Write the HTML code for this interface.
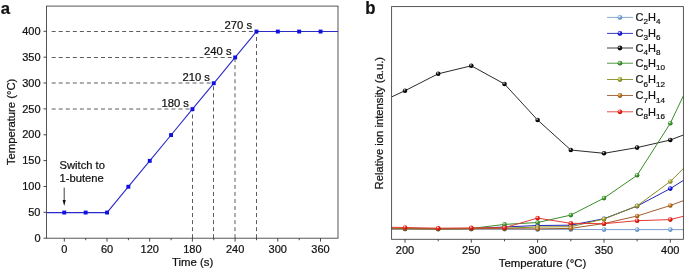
<!DOCTYPE html>
<html><head><meta charset="utf-8"><title>figure</title>
<style>html,body{margin:0;padding:0;background:#fff}svg{display:block}text{font-family:"Liberation Sans",Arial,sans-serif;fill:#111;stroke:#111;stroke-width:0.22px}</style></head><body>
<svg width="685" height="270" viewBox="0 0 685 270">
<rect width="685" height="270" fill="#fff"/>
<defs><clipPath id="cb"><rect x="391.6" y="6.6" width="291.8" height="232.7"/></clipPath>
<radialGradient id="gc2" cx="0.38" cy="0.32" r="0.7"><stop offset="0.05" stop-color="#eef5fc"/><stop offset="0.4" stop-color="#86acd8"/><stop offset="1" stop-color="#4d7fb8"/></radialGradient>
<radialGradient id="gc3" cx="0.38" cy="0.32" r="0.7"><stop offset="0.05" stop-color="#d8d8ff"/><stop offset="0.4" stop-color="#2222ee"/><stop offset="1" stop-color="#0000a0"/></radialGradient>
<radialGradient id="gc4" cx="0.38" cy="0.32" r="0.7"><stop offset="0.05" stop-color="#cfcfcf"/><stop offset="0.4" stop-color="#111"/><stop offset="1" stop-color="#000"/></radialGradient>
<radialGradient id="gc5" cx="0.38" cy="0.32" r="0.7"><stop offset="0.05" stop-color="#d8f0d0"/><stop offset="0.4" stop-color="#4aa03a"/><stop offset="1" stop-color="#1e6a14"/></radialGradient>
<radialGradient id="gc6" cx="0.38" cy="0.32" r="0.7"><stop offset="0.05" stop-color="#eef0c0"/><stop offset="0.4" stop-color="#a4aa36"/><stop offset="1" stop-color="#6d7212"/></radialGradient>
<radialGradient id="gc7" cx="0.38" cy="0.32" r="0.7"><stop offset="0.05" stop-color="#f6dcb4"/><stop offset="0.4" stop-color="#c07a2c"/><stop offset="1" stop-color="#80480f"/></radialGradient>
<radialGradient id="gc8" cx="0.38" cy="0.32" r="0.7"><stop offset="0.05" stop-color="#ffd8d2"/><stop offset="0.4" stop-color="#f02a20"/><stop offset="1" stop-color="#b00a05"/></radialGradient>
</defs>
<text x="0.8" y="13.9" font-size="16.7" font-weight="bold" fill="#000" stroke="none">a</text>
<path d="M51.7 109.0H192.4" stroke="#333" stroke-width="0.8" stroke-dasharray="4 3.043" fill="none"/>
<path d="M192.5 238.2V109.1" stroke="#333" stroke-width="0.8" stroke-dasharray="4 3.043" fill="none"/>
<path d="M51.7 83.0H213.8" stroke="#333" stroke-width="0.8" stroke-dasharray="4 3.043" fill="none"/>
<path d="M213.5 238.2V83.3" stroke="#333" stroke-width="0.8" stroke-dasharray="4 3.043" fill="none"/>
<path d="M51.7 57.5H235.1" stroke="#333" stroke-width="0.8" stroke-dasharray="4 3.043" fill="none"/>
<path d="M235.0 238.2V57.4" stroke="#333" stroke-width="0.8" stroke-dasharray="4 3.043" fill="none"/>
<path d="M51.7 31.5H256.5" stroke="#333" stroke-width="0.8" stroke-dasharray="4 3.043" fill="none"/>
<path d="M256.5 238.2V31.5" stroke="#333" stroke-width="0.8" stroke-dasharray="4 3.043" fill="none"/>
<rect x="46.5" y="6.1" width="291.5" height="232.1" fill="none" stroke="#444" stroke-width="0.9"/>
<path d="M46.5 238.2h-3" stroke="#333" stroke-width="0.9"/>
<text x="40.5" y="241.8" font-size="11" text-anchor="end">0</text>
<path d="M46.5 212.3h-3" stroke="#333" stroke-width="0.9"/>
<text x="40.5" y="215.9" font-size="11" text-anchor="end">50</text>
<path d="M46.5 186.5h-3" stroke="#333" stroke-width="0.9"/>
<text x="40.5" y="190.1" font-size="11" text-anchor="end">100</text>
<path d="M46.5 160.6h-3" stroke="#333" stroke-width="0.9"/>
<text x="40.5" y="164.2" font-size="11" text-anchor="end">150</text>
<path d="M46.5 134.8h-3" stroke="#333" stroke-width="0.9"/>
<text x="40.5" y="138.3" font-size="11" text-anchor="end">200</text>
<path d="M46.5 108.9h-3" stroke="#333" stroke-width="0.9"/>
<text x="40.5" y="112.5" font-size="11" text-anchor="end">250</text>
<path d="M46.5 83.0h-3" stroke="#333" stroke-width="0.9"/>
<text x="40.5" y="86.6" font-size="11" text-anchor="end">300</text>
<path d="M46.5 57.2h-3" stroke="#333" stroke-width="0.9"/>
<text x="40.5" y="60.8" font-size="11" text-anchor="end">350</text>
<path d="M46.5 31.3h-3" stroke="#333" stroke-width="0.9"/>
<text x="40.5" y="34.9" font-size="11" text-anchor="end">400</text>
<path d="M64.3 238.2v3.4" stroke="#333" stroke-width="0.9"/>
<text x="64.3" y="253.1" font-size="11" text-anchor="middle">0</text>
<path d="M85.7 238.2v2.0" stroke="#333" stroke-width="0.9"/>
<path d="M107.0 238.2v3.4" stroke="#333" stroke-width="0.9"/>
<text x="107.0" y="253.1" font-size="11" text-anchor="middle">60</text>
<path d="M128.4 238.2v2.0" stroke="#333" stroke-width="0.9"/>
<path d="M149.7 238.2v3.4" stroke="#333" stroke-width="0.9"/>
<text x="149.7" y="253.1" font-size="11" text-anchor="middle">120</text>
<path d="M171.1 238.2v2.0" stroke="#333" stroke-width="0.9"/>
<path d="M192.4 238.2v3.4" stroke="#333" stroke-width="0.9"/>
<text x="192.4" y="253.1" font-size="11" text-anchor="middle">180</text>
<path d="M213.8 238.2v2.0" stroke="#333" stroke-width="0.9"/>
<path d="M235.1 238.2v3.4" stroke="#333" stroke-width="0.9"/>
<text x="235.1" y="253.1" font-size="11" text-anchor="middle">240</text>
<path d="M256.5 238.2v2.0" stroke="#333" stroke-width="0.9"/>
<path d="M277.8 238.2v3.4" stroke="#333" stroke-width="0.9"/>
<text x="277.8" y="253.1" font-size="11" text-anchor="middle">300</text>
<path d="M299.2 238.2v2.0" stroke="#333" stroke-width="0.9"/>
<path d="M320.5 238.2v3.4" stroke="#333" stroke-width="0.9"/>
<text x="320.5" y="253.1" font-size="11" text-anchor="middle">360</text>
<text x="192.7" y="266" font-size="11.4" text-anchor="middle">Time (s)</text>
<text transform="translate(14.7 121.9) rotate(-90)" font-size="11.28" text-anchor="middle">Temperature (°C)</text>
<path d="M46.5 212.6L64.3 212.6L85.7 212.6L107.0 212.6L128.4 186.7L149.7 160.9L171.1 135.0L192.4 109.1L213.8 83.3L235.1 57.4L256.5 31.5L277.8 31.5L299.2 31.5L320.5 31.5L338.0 31.5" fill="none" stroke="#2a2ac8" stroke-width="1.1"/>
<rect x="62.3" y="210.6" width="3.9" height="3.9" fill="#1010e0"/>
<rect x="83.7" y="210.6" width="3.9" height="3.9" fill="#1010e0"/>
<rect x="105.1" y="210.6" width="3.9" height="3.9" fill="#1010e0"/>
<rect x="126.4" y="184.8" width="3.9" height="3.9" fill="#1010e0"/>
<rect x="147.8" y="158.9" width="3.9" height="3.9" fill="#1010e0"/>
<rect x="169.1" y="133.1" width="3.9" height="3.9" fill="#1010e0"/>
<rect x="190.5" y="107.2" width="3.9" height="3.9" fill="#1010e0"/>
<rect x="211.8" y="81.3" width="3.9" height="3.9" fill="#1010e0"/>
<rect x="233.2" y="55.5" width="3.9" height="3.9" fill="#1010e0"/>
<rect x="254.5" y="29.6" width="3.9" height="3.9" fill="#1010e0"/>
<rect x="275.9" y="29.6" width="3.9" height="3.9" fill="#1010e0"/>
<rect x="297.2" y="29.6" width="3.9" height="3.9" fill="#1010e0"/>
<rect x="318.6" y="29.6" width="3.9" height="3.9" fill="#1010e0"/>
<text x="189.0" y="106.5" font-size="11.25" text-anchor="end">180 s</text>
<text x="210.0" y="80.7" font-size="11.25" text-anchor="end">210 s</text>
<text x="231.6" y="54.8" font-size="11.25" text-anchor="end">240 s</text>
<text x="252.1" y="28.9" font-size="11.25" text-anchor="end">270 s</text>
<text x="59.5" y="168.6" font-size="11.2">Switch to</text>
<text x="59.5" y="182.3" font-size="11.2">1-butene</text>
<path d="M64.2 187.6V201" stroke="#111" stroke-width="0.8"/><path d="M64.2 205.9l-1.6 -5.9h3.2z" fill="#111"/>
<text transform="translate(365.2 13.8) scale(0.94 1)" font-size="17.8" font-weight="bold" fill="#000" stroke="none">b</text>
<g clip-path="url(#cb)">
<path d="M371.8 229.1L405.0 229.1L438.2 229.2L471.3 229.2L504.5 229.3L537.6 229.4L570.8 229.4L604.0 229.6L637.1 229.6L670.3 229.6L703.5 229.6" fill="none" stroke="#7a9fce" stroke-width="1" stroke-linejoin="round"/>
<circle cx="371.8" cy="229.1" r="2.3" fill="url(#gc2)"/>
<circle cx="405.0" cy="229.1" r="2.3" fill="url(#gc2)"/>
<circle cx="438.2" cy="229.2" r="2.3" fill="url(#gc2)"/>
<circle cx="471.3" cy="229.2" r="2.3" fill="url(#gc2)"/>
<circle cx="504.5" cy="229.3" r="2.3" fill="url(#gc2)"/>
<circle cx="537.6" cy="229.4" r="2.3" fill="url(#gc2)"/>
<circle cx="570.8" cy="229.4" r="2.3" fill="url(#gc2)"/>
<circle cx="604.0" cy="229.6" r="2.3" fill="url(#gc2)"/>
<circle cx="637.1" cy="229.6" r="2.3" fill="url(#gc2)"/>
<circle cx="670.3" cy="229.6" r="2.3" fill="url(#gc2)"/>
<circle cx="703.5" cy="229.6" r="2.3" fill="url(#gc2)"/>
<path d="M371.8 228.6L405.0 228.6L438.2 228.8L471.3 228.6L504.5 227.0L537.6 225.5L570.8 225.2L604.0 218.7L637.1 206.1L670.3 188.6L703.5 167.8" fill="none" stroke="#2424b8" stroke-width="1" stroke-linejoin="round"/>
<circle cx="371.8" cy="228.6" r="2.3" fill="url(#gc3)"/>
<circle cx="405.0" cy="228.6" r="2.3" fill="url(#gc3)"/>
<circle cx="438.2" cy="228.8" r="2.3" fill="url(#gc3)"/>
<circle cx="471.3" cy="228.6" r="2.3" fill="url(#gc3)"/>
<circle cx="504.5" cy="227.0" r="2.3" fill="url(#gc3)"/>
<circle cx="537.6" cy="225.5" r="2.3" fill="url(#gc3)"/>
<circle cx="570.8" cy="225.2" r="2.3" fill="url(#gc3)"/>
<circle cx="604.0" cy="218.7" r="2.3" fill="url(#gc3)"/>
<circle cx="637.1" cy="206.1" r="2.3" fill="url(#gc3)"/>
<circle cx="670.3" cy="188.6" r="2.3" fill="url(#gc3)"/>
<circle cx="703.5" cy="167.8" r="2.3" fill="url(#gc3)"/>
<path d="M371.8 106.1L405.0 90.7L438.2 73.8L471.3 65.8L504.5 84.0L537.6 120.0L570.8 150.0L604.0 153.3L637.1 147.6L670.3 140.0L703.5 127.3" fill="none" stroke="#2a2a2a" stroke-width="1" stroke-linejoin="round"/>
<circle cx="371.8" cy="106.1" r="2.3" fill="url(#gc4)"/>
<circle cx="405.0" cy="90.7" r="2.3" fill="url(#gc4)"/>
<circle cx="438.2" cy="73.8" r="2.3" fill="url(#gc4)"/>
<circle cx="471.3" cy="65.8" r="2.3" fill="url(#gc4)"/>
<circle cx="504.5" cy="84.0" r="2.3" fill="url(#gc4)"/>
<circle cx="537.6" cy="120.0" r="2.3" fill="url(#gc4)"/>
<circle cx="570.8" cy="150.0" r="2.3" fill="url(#gc4)"/>
<circle cx="604.0" cy="153.3" r="2.3" fill="url(#gc4)"/>
<circle cx="637.1" cy="147.6" r="2.3" fill="url(#gc4)"/>
<circle cx="670.3" cy="140.0" r="2.3" fill="url(#gc4)"/>
<circle cx="703.5" cy="127.3" r="2.3" fill="url(#gc4)"/>
<path d="M371.8 228.5L405.0 228.5L438.2 228.8L471.3 228.5L504.5 224.4L537.6 222.5L570.8 215.1L604.0 198.1L637.1 175.3L670.3 123.3L703.5 53.4" fill="none" stroke="#3a8c2a" stroke-width="1" stroke-linejoin="round"/>
<circle cx="371.8" cy="228.5" r="2.3" fill="url(#gc5)"/>
<circle cx="405.0" cy="228.5" r="2.3" fill="url(#gc5)"/>
<circle cx="438.2" cy="228.8" r="2.3" fill="url(#gc5)"/>
<circle cx="471.3" cy="228.5" r="2.3" fill="url(#gc5)"/>
<circle cx="504.5" cy="224.4" r="2.3" fill="url(#gc5)"/>
<circle cx="537.6" cy="222.5" r="2.3" fill="url(#gc5)"/>
<circle cx="570.8" cy="215.1" r="2.3" fill="url(#gc5)"/>
<circle cx="604.0" cy="198.1" r="2.3" fill="url(#gc5)"/>
<circle cx="637.1" cy="175.3" r="2.3" fill="url(#gc5)"/>
<circle cx="670.3" cy="123.3" r="2.3" fill="url(#gc5)"/>
<circle cx="703.5" cy="53.4" r="2.3" fill="url(#gc5)"/>
<path d="M371.8 228.7L405.0 228.7L438.2 228.9L471.3 228.7L504.5 228.2L537.6 227.0L570.8 226.7L604.0 219.0L637.1 205.9L670.3 181.5L703.5 148.6" fill="none" stroke="#868c22" stroke-width="1" stroke-linejoin="round"/>
<circle cx="371.8" cy="228.7" r="2.3" fill="url(#gc6)"/>
<circle cx="405.0" cy="228.7" r="2.3" fill="url(#gc6)"/>
<circle cx="438.2" cy="228.9" r="2.3" fill="url(#gc6)"/>
<circle cx="471.3" cy="228.7" r="2.3" fill="url(#gc6)"/>
<circle cx="504.5" cy="228.2" r="2.3" fill="url(#gc6)"/>
<circle cx="537.6" cy="227.0" r="2.3" fill="url(#gc6)"/>
<circle cx="570.8" cy="226.7" r="2.3" fill="url(#gc6)"/>
<circle cx="604.0" cy="219.0" r="2.3" fill="url(#gc6)"/>
<circle cx="637.1" cy="205.9" r="2.3" fill="url(#gc6)"/>
<circle cx="670.3" cy="181.5" r="2.3" fill="url(#gc6)"/>
<circle cx="703.5" cy="148.6" r="2.3" fill="url(#gc6)"/>
<path d="M371.8 228.8L405.0 228.8L438.2 229.0L471.3 228.8L504.5 228.7L537.6 228.9L570.8 228.4L604.0 223.5L637.1 216.0L670.3 205.5L703.5 193.3" fill="none" stroke="#a45c2c" stroke-width="1" stroke-linejoin="round"/>
<circle cx="371.8" cy="228.8" r="2.3" fill="url(#gc7)"/>
<circle cx="405.0" cy="228.8" r="2.3" fill="url(#gc7)"/>
<circle cx="438.2" cy="229.0" r="2.3" fill="url(#gc7)"/>
<circle cx="471.3" cy="228.8" r="2.3" fill="url(#gc7)"/>
<circle cx="504.5" cy="228.7" r="2.3" fill="url(#gc7)"/>
<circle cx="537.6" cy="228.9" r="2.3" fill="url(#gc7)"/>
<circle cx="570.8" cy="228.4" r="2.3" fill="url(#gc7)"/>
<circle cx="604.0" cy="223.5" r="2.3" fill="url(#gc7)"/>
<circle cx="637.1" cy="216.0" r="2.3" fill="url(#gc7)"/>
<circle cx="670.3" cy="205.5" r="2.3" fill="url(#gc7)"/>
<circle cx="703.5" cy="193.3" r="2.3" fill="url(#gc7)"/>
<path d="M371.8 227.0L405.0 227.5L438.2 228.2L471.3 227.9L504.5 227.7L537.6 218.1L570.8 223.3L604.0 223.7L637.1 220.7L670.3 219.6L703.5 211.2" fill="none" stroke="#e23a34" stroke-width="1" stroke-linejoin="round"/>
<circle cx="371.8" cy="227.0" r="2.3" fill="url(#gc8)"/>
<circle cx="405.0" cy="227.5" r="2.3" fill="url(#gc8)"/>
<circle cx="438.2" cy="228.2" r="2.3" fill="url(#gc8)"/>
<circle cx="471.3" cy="227.9" r="2.3" fill="url(#gc8)"/>
<circle cx="504.5" cy="227.7" r="2.3" fill="url(#gc8)"/>
<circle cx="537.6" cy="218.1" r="2.3" fill="url(#gc8)"/>
<circle cx="570.8" cy="223.3" r="2.3" fill="url(#gc8)"/>
<circle cx="604.0" cy="223.7" r="2.3" fill="url(#gc8)"/>
<circle cx="637.1" cy="220.7" r="2.3" fill="url(#gc8)"/>
<circle cx="670.3" cy="219.6" r="2.3" fill="url(#gc8)"/>
<circle cx="703.5" cy="211.2" r="2.3" fill="url(#gc8)"/>
</g>
<rect x="391.6" y="6.6" width="291.8" height="232.7" fill="none" stroke="#444" stroke-width="0.9"/>
<path d="M405.0 239.3v3.4" stroke="#333" stroke-width="0.9"/>
<text x="405.0" y="253.9" font-size="11" text-anchor="middle">200</text>
<path d="M438.2 239.3v2.0" stroke="#333" stroke-width="0.9"/>
<path d="M471.3 239.3v3.4" stroke="#333" stroke-width="0.9"/>
<text x="471.3" y="253.9" font-size="11" text-anchor="middle">250</text>
<path d="M504.5 239.3v2.0" stroke="#333" stroke-width="0.9"/>
<path d="M537.6 239.3v3.4" stroke="#333" stroke-width="0.9"/>
<text x="537.6" y="253.9" font-size="11" text-anchor="middle">300</text>
<path d="M570.8 239.3v2.0" stroke="#333" stroke-width="0.9"/>
<path d="M604.0 239.3v3.4" stroke="#333" stroke-width="0.9"/>
<text x="604.0" y="253.9" font-size="11" text-anchor="middle">350</text>
<path d="M637.1 239.3v2.0" stroke="#333" stroke-width="0.9"/>
<path d="M670.3 239.3v3.4" stroke="#333" stroke-width="0.9"/>
<text x="670.3" y="253.9" font-size="11" text-anchor="middle">400</text>
<text x="542.5" y="266.7" font-size="11.4" text-anchor="middle">Temperature (°C)</text>
<text transform="translate(383.2 123.2) rotate(-90)" font-size="11.25" text-anchor="middle">Relative ion intensity (a.u.)</text>
<path d="M607 17.4h26" stroke="#7a9fce" stroke-width="0.9"/>
<circle cx="619.9" cy="17.4" r="2.4" fill="url(#gc2)"/>
<text x="635.5" y="21.1" font-size="11">C<tspan dy="3.3" font-size="8.1">2</tspan><tspan dy="-3.3" font-size="11">H</tspan><tspan dy="3.3" font-size="8.1">4</tspan></text>
<path d="M607 33.4h26" stroke="#2424b8" stroke-width="0.9"/>
<circle cx="619.9" cy="33.4" r="2.4" fill="url(#gc3)"/>
<text x="635.5" y="37.1" font-size="11">C<tspan dy="3.3" font-size="8.1">3</tspan><tspan dy="-3.3" font-size="11">H</tspan><tspan dy="3.3" font-size="8.1">6</tspan></text>
<path d="M607 48.0h26" stroke="#2a2a2a" stroke-width="0.9"/>
<circle cx="619.9" cy="48.0" r="2.4" fill="url(#gc4)"/>
<text x="635.5" y="51.7" font-size="11">C<tspan dy="3.3" font-size="8.1">4</tspan><tspan dy="-3.3" font-size="11">H</tspan><tspan dy="3.3" font-size="8.1">8</tspan></text>
<path d="M607 63.2h26" stroke="#3a8c2a" stroke-width="0.9"/>
<circle cx="619.9" cy="63.2" r="2.4" fill="url(#gc5)"/>
<text x="635.5" y="67.0" font-size="11">C<tspan dy="3.3" font-size="8.1">5</tspan><tspan dy="-3.3" font-size="11">H</tspan><tspan dy="3.3" font-size="8.1">10</tspan></text>
<path d="M607 79.5h26" stroke="#868c22" stroke-width="0.9"/>
<circle cx="619.9" cy="79.5" r="2.4" fill="url(#gc6)"/>
<text x="635.5" y="83.2" font-size="11">C<tspan dy="3.3" font-size="8.1">6</tspan><tspan dy="-3.3" font-size="11">H</tspan><tspan dy="3.3" font-size="8.1">12</tspan></text>
<path d="M607 95.5h26" stroke="#a45c2c" stroke-width="0.9"/>
<circle cx="619.9" cy="95.5" r="2.4" fill="url(#gc7)"/>
<text x="635.5" y="99.2" font-size="11">C<tspan dy="3.3" font-size="8.1">7</tspan><tspan dy="-3.3" font-size="11">H</tspan><tspan dy="3.3" font-size="8.1">14</tspan></text>
<path d="M607 111.8h26" stroke="#e23a34" stroke-width="0.9"/>
<circle cx="619.9" cy="111.8" r="2.4" fill="url(#gc8)"/>
<text x="635.5" y="115.5" font-size="11">C<tspan dy="3.3" font-size="8.1">8</tspan><tspan dy="-3.3" font-size="11">H</tspan><tspan dy="3.3" font-size="8.1">16</tspan></text>
</svg></body></html>
